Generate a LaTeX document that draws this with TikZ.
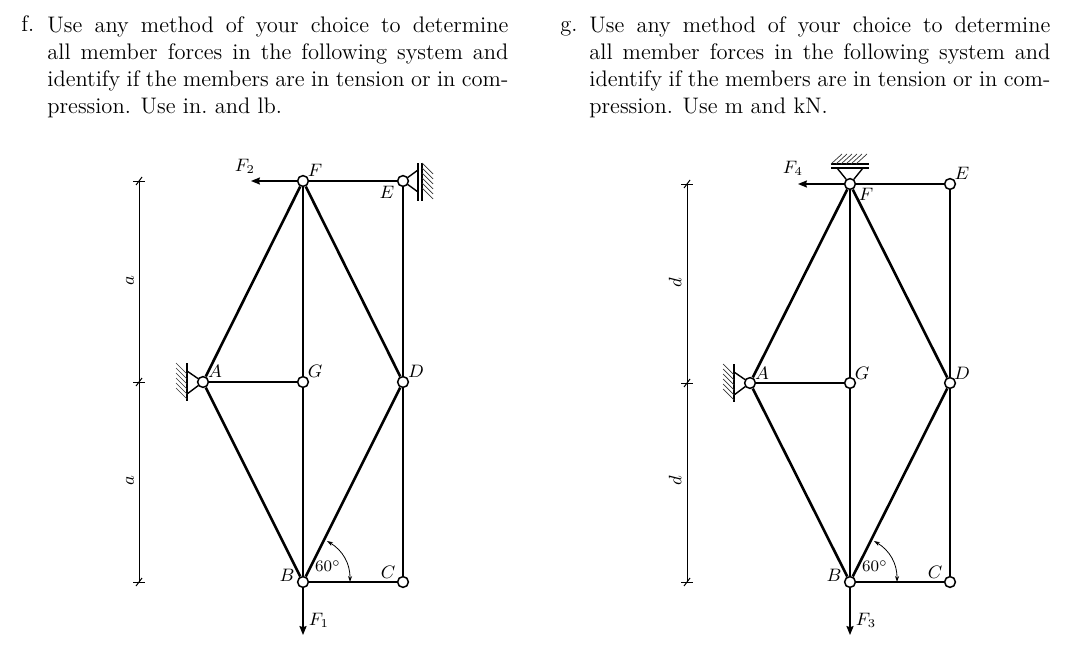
\documentclass[tikz,border=0pt]{standalone}
\usepackage{amsmath,amssymb}
\usetikzlibrary{calc,arrows.meta,positioning}
\newcommand{\fullline}[1]{\makebox[230.5pt][s]{#1}}
\tikzset{
  joint/.style={circle, draw, line width=0.75pt, fill=white, inner sep=0pt, minimum size=5.4pt},
  member/.style={line width=1.3pt},
  support/.style={line width=0.7pt},
  wallline/.style={line width=0.9pt},
  hatchline/.style={line width=0.35pt, black!80},
  dimline/.style={line width=0.5pt},
  force/.style={line width=0.6pt, -{Stealth[length=4.5pt,width=3.6pt,inset=0.6pt]}},
  anglearc/.style={line width=0.4pt, {Stealth[length=3pt,width=2pt]}-{Stealth[length=3pt,width=2pt]}},
  lbl/.style={inner sep=0pt, font=\small},
  anglbl/.style={inner sep=0pt, font=\footnotesize},
  para/.style={anchor=north west, inner sep=0pt, align=left, font=\fontsize{11.25}{13.5}\selectfont},
  tag/.style={anchor=north west, inner sep=0pt, text height=7.8pt, font=\fontsize{11.25}{13.5}\selectfont},
}
\begin{document}
\begin{tikzpicture}[x=0.5pt, y=-0.5pt]
  \useasboundingbox (0,0) rectangle (1092,658);

  % --- Problem statements ---
  \node[tag] (tagf) at (21,16) {f.};
  \node[para] (textf) at (47,16) {\fullline{Use any method of your choice to determine}\\
    \fullline{all member forces in the following system and}\\
    \fullline{identify if the members are in tension or in com-}\\
    pression. Use in.\ and lb.};
  \node[tag] (tagg) at (560,16) {g.};
  \node[para] (textg) at (589,16) {\fullline{Use any method of your choice to determine}\\
    \fullline{all member forces in the following system and}\\
    \fullline{identify if the members are in tension or in com-}\\
    pression. Use m and kN.};

  % --- Truss f ---
  \node[joint] (fF) at (303,181) {};
  \node[joint] (fE) at (403,181) {};
  \node[joint] (fA) at (203,382) {};
  \node[joint] (fG) at (303,382) {};
  \node[joint] (fD) at (403,382) {};
  \node[joint] (fB) at (303,582) {};
  \node[joint] (fC) at (403,582) {};

  % Members
  \foreach \a/\b in {fF/fE,fE/fD,fD/fC,fC/fB,fB/fG,fG/fF,fF/fA,fF/fD,fA/fG,fA/fB,fB/fD}
    \draw[member] (\a)--(\b);

  % Support at A
  \coordinate (fAu) at (187,371);
  \coordinate (fAl) at (187,394);
  \draw[support] (fAu)--(fA)--(fAl);
  \draw[wallline] (187,363)--(187,401);
  \foreach \y in {363,368,...,390}
    \draw[hatchline] (176,\y)--(187,\y+11);

  % Support at E
  \coordinate (fEu) at (418,170);
  \coordinate (fEl) at (418,192);
  \draw[support] (fEu)--(fE)--(fEl);
  \draw[wallline] (418,163)--(418,201);
  \draw[wallline] (422,163)--(422,201);
  \foreach \y in {163,168,...,190}
    \draw[hatchline] (422,\y)--(433,\y+11);

  % Forces
  \coordinate (fFtip) at (251,181);
  \coordinate (fBtip) at (303,635);
  \draw[force] (fF)--(fFtip);
  \draw[force] (fB)--(fBtip);

  % Dimension
  \coordinate (fd1) at (139,181);
  \coordinate (fd2) at (139,382);
  \coordinate (fd3) at (139,582);
  \draw[dimline] (fd1)--(fd3);
  \foreach \p in {fd1,fd2,fd3} {
    \draw[dimline] ($(\p)+(-6,0)$)--($(\p)+(6,0)$);
    \draw[dimline] ($(\p)+(-3,4)$)--($(\p)+(3,-4)$);
  }
  \node[lbl, rotate=90] (fa1) at (130,281) {$a$};
  \node[lbl, rotate=90] (fa2) at (130,481) {$a$};

  % Angle
  \coordinate (fang1) at (350,582);
  \coordinate (fang2) at (327,541);
  \draw[anglearc] (fang1) to[bend right=30] (fang2);
  \node[anglbl] (f60) at (328,566) {$60^\circ$};

  % Labels
  \node[lbl] (lfF2) at (245,166) {$F_2$};
  \node[lbl] (lfF) at (315,170) {$F$};
  \node[lbl] (lfE) at (387,192) {$E$};
  \node[lbl] (lfA) at (215,371) {$A$};
  \node[lbl] (lfG) at (315,371) {$G$};
  \node[lbl] (lfD) at (416,371) {$D$};
  \node[lbl] (lfB) at (287,575) {$B$};
  \node[lbl] (lfC) at (388,572) {$C$};
  \node[lbl] (lfF1) at (319,620) {$F_1$};

  % --- Truss g ---
  \node[joint] (gF) at (850,184) {};
  \node[joint] (gE) at (950,184) {};
  \node[joint] (gA) at (750,383) {};
  \node[joint] (gG) at (850,383) {};
  \node[joint] (gD) at (950,383) {};
  \node[joint] (gB) at (850,582) {};
  \node[joint] (gC) at (950,582) {};

  % Members
  \foreach \a/\b in {gF/gE,gE/gD,gD/gC,gC/gB,gB/gG,gG/gF,gF/gA,gF/gD,gA/gG,gA/gB,gB/gD}
    \draw[member] (\a)--(\b);

  % Support at A
  \coordinate (gAu) at (734,372);
  \coordinate (gAl) at (734,395);
  \draw[support] (gAu)--(gA)--(gAl);
  \draw[wallline] (734,364)--(734,402);
  \foreach \y in {364,369,...,391}
    \draw[hatchline] (723,\y)--(734,\y+11);

  % Support at F
  \coordinate (gFl) at (837,168);
  \coordinate (gFr) at (863,168);
  \draw[support] (gFl)--(gF)--(gFr);
  \draw[wallline] (831,168)--(869,168);
  \draw[wallline] (831,164)--(869,164);
  \foreach \x in {831,836,...,858}
    \draw[hatchline] (\x,164)--(\x+11,154);

  % Forces
  \coordinate (gFtip) at (798,184);
  \coordinate (gBtip) at (850,635);
  \draw[force] (gF)--(gFtip);
  \draw[force] (gB)--(gBtip);

  % Dimension
  \coordinate (gd1) at (687,184);
  \coordinate (gd2) at (687,383);
  \coordinate (gd3) at (687,582);
  \draw[dimline] (gd1)--(gd3);
  \foreach \p in {gd1,gd2,gd3} {
    \draw[dimline] ($(\p)+(-6,0)$)--($(\p)+(6,0)$);
    \draw[dimline] ($(\p)+(-3,4)$)--($(\p)+(3,-4)$);
  }
  \node[lbl, rotate=90] (gd1l) at (675,283) {$d$};
  \node[lbl, rotate=90] (gd2l) at (675,481) {$d$};

  % Angle
  \coordinate (gang1) at (897,582);
  \coordinate (gang2) at (874,541);
  \draw[anglearc] (gang1) to[bend right=30] (gang2);
  \node[anglbl] (g60) at (875,566) {$60^\circ$};

  % Labels
  \node[lbl] (lgF4) at (793,168) {$F_4$};
  \node[lbl] (lgF) at (866,194) {$F$};
  \node[lbl] (lgE) at (962,173) {$E$};
  \node[lbl] (lgA) at (762,373) {$A$};
  \node[lbl] (lgG) at (862,373) {$G$};
  \node[lbl] (lgD) at (962,373) {$D$};
  \node[lbl] (lgB) at (834,575) {$B$};
  \node[lbl] (lgC) at (935,572) {$C$};
  \node[lbl] (lgF3) at (866,620) {$F_3$};
\end{tikzpicture}
\end{document}
